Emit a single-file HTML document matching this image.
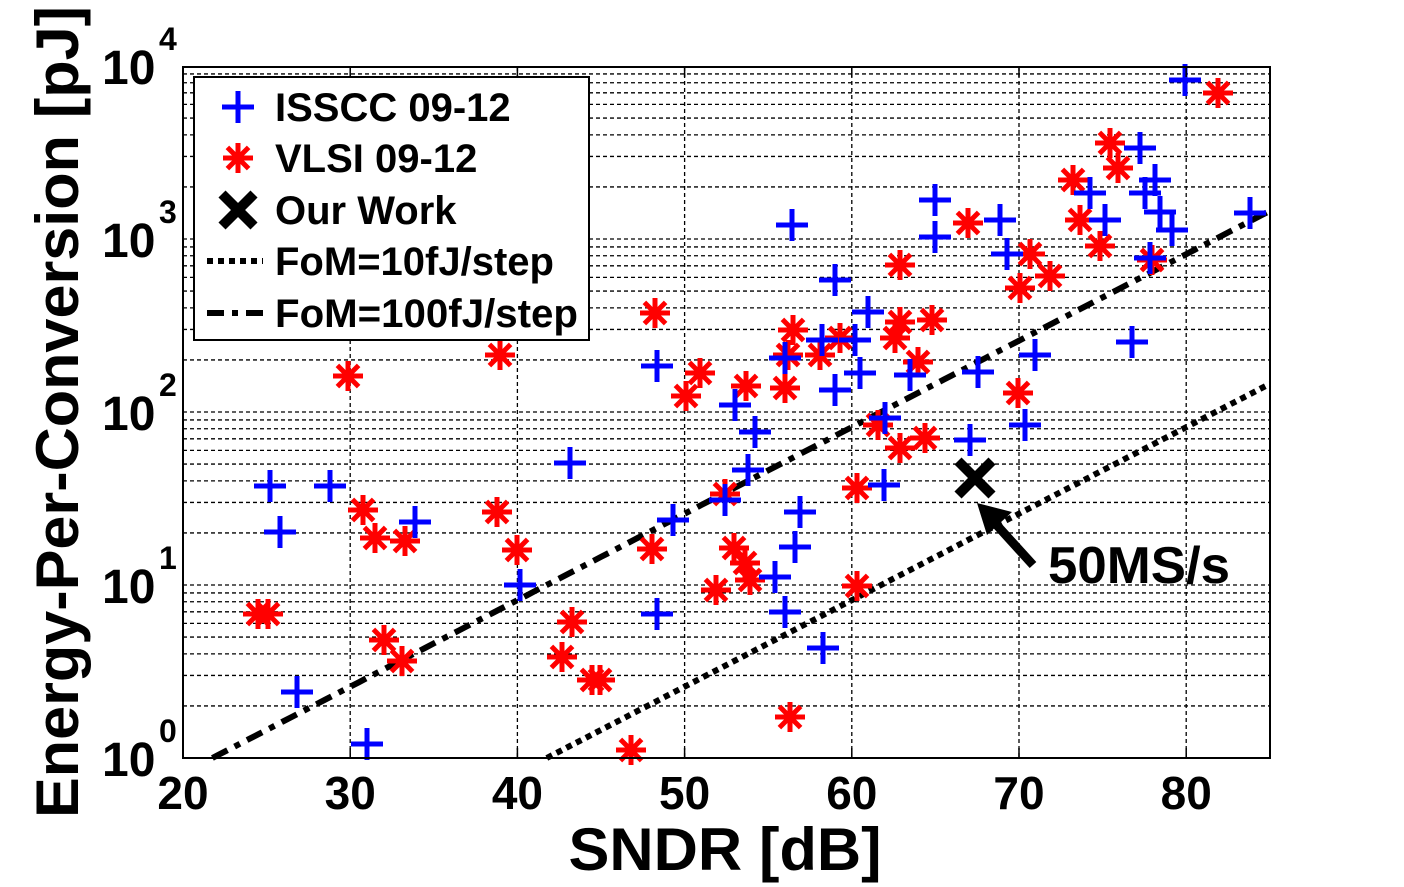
<!DOCTYPE html>
<html><head><meta charset="utf-8"><style>
html,body{margin:0;padding:0;background:#fff;}
svg{display:block;font-family:"Liberation Sans",Arial,sans-serif;font-weight:bold;}
</style></head><body>
<svg id="s" width="1404" height="887" viewBox="0 0 1404 887" xmlns="http://www.w3.org/2000/svg">
<g id="grid" stroke="#000" stroke-width="1.3" stroke-dasharray="4,3"></g>
<g id="fom" fill="none" stroke="#000" stroke-width="6"></g>
<g id="pts"></g>
<rect x="183" y="67" width="1087" height="691" fill="none" stroke="#000" stroke-width="2"/>
<g id="ticks" stroke="#000" stroke-width="1.5"></g>
<g id="labels" fill="#000"></g>
<!-- legend -->
<rect x="194" y="77" width="395" height="263" fill="#fff" stroke="#000" stroke-width="2"/>
<g font-size="40">
<text x="275" y="121">ISSCC 09-12</text>
<text x="275" y="172">VLSI 09-12</text>
<text x="275" y="224">Our Work</text>
<text x="275" y="275">FoM=10fJ/step</text>
<text x="275" y="327" textLength="303" lengthAdjust="spacingAndGlyphs">FoM=100fJ/step</text>
</g>
<g stroke="#0000ff" stroke-width="5"><line x1="222" y1="107" x2="254" y2="107"/><line x1="238" y1="91" x2="238" y2="123"/></g>
<g id="legast"></g>
<g stroke="#000" stroke-width="10"><line x1="222" y1="194" x2="254" y2="226"/><line x1="254" y1="194" x2="222" y2="226"/></g>
<line x1="207" y1="261" x2="263" y2="261" stroke="#000" stroke-width="6" stroke-dasharray="6,5"/>
<line x1="207" y1="313" x2="263" y2="313" stroke="#000" stroke-width="6" stroke-dasharray="17,8,6,8"/>
<!-- our work -->
<g stroke="#000" stroke-width="10"><line x1="958" y1="461" x2="992" y2="495"/><line x1="992" y1="461" x2="958" y2="495"/></g>
<line x1="1033" y1="565" x2="993" y2="521" stroke="#000" stroke-width="9"/>
<polygon points="977,503 1012,512 987,535" fill="#000"/>
<text x="1048" y="583" font-size="52" textLength="182" lengthAdjust="spacingAndGlyphs">50MS/s</text>
<text x="725" y="870" font-size="60" text-anchor="middle" textLength="313" lengthAdjust="spacingAndGlyphs">SNDR [dB]</text>
<text transform="translate(78,412) rotate(-90)" font-size="60" text-anchor="middle" textLength="812" lengthAdjust="spacingAndGlyphs">Energy-Per-Conversion [pJ]</text>
</svg>
<script>
const NS="http://www.w3.org/2000/svg";
function el(p,t,a,txt){const e=document.createElementNS(NS,t);for(const k in a)e.setAttribute(k,a[k]);if(txt!==undefined)e.textContent=txt;document.getElementById(p).appendChild(e);return e;}
const X=v=>183+(v-20)*16.72, Y=l=>758-l*173;
for(let d=0;d<4;d++)for(let m=1;m<10;m++){const y=Y(d+Math.log10(m));if(d==0&&m==1)continue;el("grid","line",{x1:183,x2:1270,y1:y,y2:y});}
for(let v=30;v<=80;v+=10)el("grid","line",{x1:X(v),x2:X(v),y1:67,y2:758});
for(let v=20;v<=80;v+=10){el("ticks","line",{x1:X(v),x2:X(v),y1:758,y2:748});el("ticks","line",{x1:X(v),x2:X(v),y1:67,y2:77});
el("labels","text",{x:X(v),y:809,"font-size":46,"text-anchor":"middle"},String(v));}
for(let d=0;d<=4;d++){const y=Y(d);el("labels","text",{x:102,y:y+18,"font-size":48},"10");el("labels","text",{x:159,y:y-16,"font-size":32},String(d));}
function fom(f,dash){let pts=[];for(let s=20;s<=85;s+=0.5){const l=Math.log10(f*Math.pow(2,(s-1.76)/6.02));if(l<0||l>4)continue;pts.push(X(s).toFixed(1)+","+Y(l).toFixed(1));}
const s0=1.76+6.02*Math.log2(1/f);pts.unshift(X(s0).toFixed(1)+","+Y(0));
el("fom","polyline",{points:pts.join(" "),"stroke-dasharray":dash});}
fom(0.01,"6,5");fom(0.1,"17,8,6,8");
const blue=[[1185,80],[1250,213],[1140,148],[1155,180],[1145,193],[1090,193],[1105,220],[1160,212],[1172,230],[1150,258],[1000,220],[935,200],[935,237],[1007,254],[792,225],[835,280],[868,312],[822,340],[855,340],[785,358],[835,390],[860,373],[910,375],[978,372],[1035,355],[1132,342],[657,366],[735,405],[755,432],[748,470],[885,418],[970,440],[1025,425],[570,463],[270,486],[330,486],[280,532],[415,522],[673,520],[725,500],[800,512],[795,547],[775,577],[785,612],[520,585],[657,614],[823,648],[297,692],[367,744],[884,485]];
const red=[[1218,93],[1110,143],[1118,168],[1073,180],[1080,220],[1100,246],[968,223],[1030,254],[1050,276],[1020,288],[1152,260],[900,265],[900,322],[895,338],[932,320],[918,362],[793,330],[840,338],[820,355],[788,355],[655,313],[500,355],[348,376],[700,373],[686,396],[746,386],[785,388],[878,425],[900,448],[925,438],[1018,393],[857,488],[725,494],[363,510],[497,512],[375,538],[405,541],[652,549],[517,550],[734,548],[745,563],[750,580],[716,590],[857,586],[258,614],[268,614],[384,640],[402,661],[572,622],[562,657],[592,680],[600,680],[631,750],[790,717]];
function ast(p,x,y,r){for(let i=0;i<4;i++){const a=i*Math.PI/4;el(p,"line",{x1:x-r*Math.cos(a),y1:y-r*Math.sin(a),x2:x+r*Math.cos(a),y2:y+r*Math.sin(a),stroke:"#ff0000","stroke-width":5});}}
red.forEach(p=>ast("pts",p[0],p[1],15));
blue.forEach(p=>{el("pts","line",{x1:p[0]-16,x2:p[0]+16,y1:p[1],y2:p[1],stroke:"#0000ff","stroke-width":5});el("pts","line",{x1:p[0],x2:p[0],y1:p[1]-16,y2:p[1]+16,stroke:"#0000ff","stroke-width":5});});
ast("legast",238,158,15);
</script>
</body></html>
